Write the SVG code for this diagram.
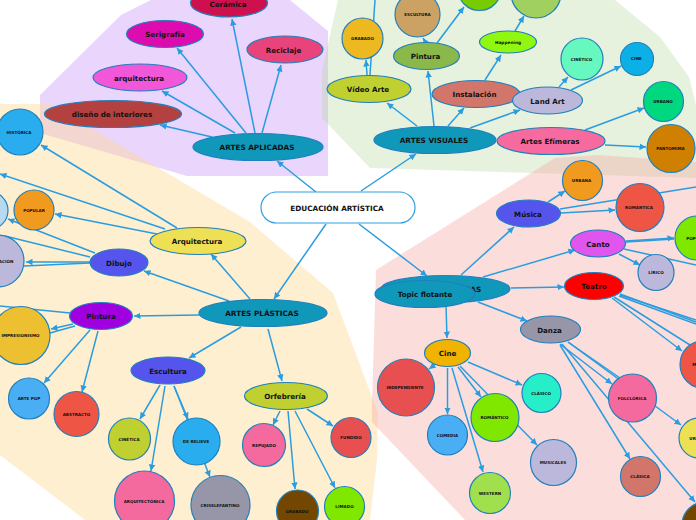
<svg xmlns="http://www.w3.org/2000/svg" width="696" height="520" viewBox="0 0 696 520">
<style>
.hull{stroke:none}
#connectors line{stroke:#2a9de0;stroke-width:1.5;fill:none}
#connectors line.a{marker-end:url(#arr)}
.n ellipse,.n circle{stroke:#2080bd;stroke-width:1.2}
text{font-family:"DejaVu Sans","Liberation Sans",sans-serif;font-weight:bold;text-anchor:middle;fill:#111}
.l{font-size:7.1px}
.u{font-size:7.3px}
.m{font-size:7.3px}
.s{font-size:4.1px}
</style>
<defs>
<marker id="arr" markerUnits="userSpaceOnUse" markerWidth="8" markerHeight="8" refX="6.500" refY="3.500" orient="auto"><path d="M0,0.3L6.500,3.500L0,6.700Z" fill="#2a9de0"/></marker>
</defs>
<rect width="696" height="520" fill="#fff"/>
<g id="hulls">
<polygon class="hull" fill="#ce9bfb" fill-opacity=".42" points="40,95 121,15 151,0 290,0 328,31 328,176 187,176 40,133"/>
<polygon class="hull" fill="#b9d9a3" fill-opacity=".36" points="338,0 322,70 322,118 370,168 696,178 696,105 689,77 660,37 615,0"/>
<polygon class="hull" fill="#fdd88e" fill-opacity=".42" points="0,104 50,104 250,222 333,293 378,413 377,460 370,520 85,520 0,455"/>
<polygon class="hull" fill="#f5a9a0" fill-opacity=".38" points="555,158 598,155 696,162 696,520 465,520 372,422 372,403 376,270 392,260"/>
</g>
<g id="connectors">
<line class="a" x1="316" y1="192" x2="277" y2="161"/>
<line class="a" x1="361" y1="191" x2="416" y2="154"/>
<line class="a" x1="326" y1="224" x2="274" y2="299"/>
<line class="a" x1="359" y1="224" x2="427" y2="276"/>
<line class="a" x1="255" y1="133" x2="232" y2="19"/>
<line class="a" x1="246" y1="133" x2="177" y2="48"/>
<line class="a" x1="262" y1="133" x2="281" y2="65"/>
<line class="a" x1="235" y1="133" x2="162" y2="91"/>
<line class="a" x1="212" y1="137" x2="160" y2="125"/>
<line class="a" x1="417" y1="126" x2="387" y2="103"/>
<line class="a" x1="434" y1="126" x2="428" y2="71"/>
<line class="a" x1="448" y1="126" x2="464" y2="108"/>
<line class="a" x1="470" y1="128" x2="520" y2="110"/>
<line class="a" x1="485" y1="80" x2="501" y2="55"/>
<line class="a" x1="426" y1="43" x2="423" y2="38"/>
<line class="a" x1="437" y1="43" x2="464" y2="7"/>
<line class="a" x1="515" y1="31" x2="524" y2="16"/>
<line class="a" x1="367" y1="75" x2="366" y2="60"/>
<line x1="370" y1="75" x2="375" y2="0"/>
<line class="a" x1="559" y1="87" x2="568" y2="77"/>
<line class="a" x1="571" y1="90" x2="621" y2="66"/>
<line class="a" x1="585" y1="130" x2="644" y2="108"/>
<line class="a" x1="605" y1="145" x2="646" y2="147"/>
<line class="a" x1="461" y1="275" x2="514" y2="227"/>
<line class="a" x1="483" y1="277" x2="575" y2="250"/>
<line class="a" x1="511" y1="288" x2="564" y2="287"/>
<line class="a" x1="478" y1="302" x2="527" y2="321"/>
<line class="a" x1="446" y1="306" x2="447" y2="338"/>
<line class="a" x1="548" y1="202" x2="565" y2="191"/>
<line class="a" x1="561" y1="213" x2="615" y2="210"/>
<line x1="560" y1="209" x2="696" y2="187"/>
<line class="a" x1="626" y1="241" x2="674" y2="238"/>
<line x1="626" y1="242" x2="674" y2="239"/>
<line class="a" x1="619" y1="254" x2="640" y2="265"/>
<line x1="624" y1="249" x2="696" y2="265"/>
<line x1="620" y1="295" x2="696" y2="320"/>
<line x1="620" y1="294" x2="696" y2="322"/>
<line x1="619" y1="296" x2="696" y2="324"/>
<line class="a" x1="612" y1="298" x2="682" y2="351"/>
<line x1="614" y1="297" x2="690" y2="345"/>
<line class="a" x1="560" y1="344" x2="612" y2="384"/>
<line x1="568" y1="342" x2="620" y2="378"/>
<line class="a" x1="560" y1="345" x2="630" y2="459"/>
<line class="a" x1="562" y1="344" x2="695" y2="502"/>
<line class="a" x1="568" y1="342" x2="681" y2="425"/>
<line class="a" x1="436" y1="364" x2="429" y2="369"/>
<line class="a" x1="447.500" y1="368" x2="447.500" y2="414"/>
<line class="a" x1="452" y1="368" x2="483" y2="472"/>
<line class="a" x1="458" y1="367" x2="481" y2="397"/>
<line class="a" x1="460" y1="366" x2="537" y2="445"/>
<line class="a" x1="468" y1="362" x2="522" y2="385"/>
<line class="a" x1="199" y1="315" x2="134" y2="316"/>
<line class="a" x1="229" y1="301" x2="144" y2="271"/>
<line class="a" x1="250" y1="299" x2="211" y2="254"/>
<line class="a" x1="241" y1="327" x2="189" y2="358"/>
<line class="a" x1="268" y1="329" x2="282" y2="381"/>
<line class="a" x1="177" y1="228" x2="41" y2="145"/>
<line class="a" x1="165" y1="229" x2="0" y2="174"/>
<line class="a" x1="157" y1="234" x2="55" y2="214"/>
<line class="a" x1="95" y1="253" x2="8" y2="219"/>
<line class="a" x1="90" y1="262" x2="26" y2="262"/>
<line x1="90" y1="263" x2="24" y2="266"/>
<line x1="90" y1="257" x2="5" y2="236"/>
<line x1="70" y1="313" x2="0" y2="306"/>
<line class="a" x1="73" y1="324" x2="51" y2="329"/>
<line x1="75" y1="326" x2="50" y2="333"/>
<line class="a" x1="90" y1="330" x2="44" y2="383"/>
<line class="a" x1="98" y1="331" x2="82" y2="392"/>
<line class="a" x1="160" y1="385" x2="140" y2="419"/>
<line class="a" x1="165" y1="386" x2="151" y2="471"/>
<line class="a" x1="174" y1="386" x2="188" y2="419"/>
<line class="a" x1="174" y1="386" x2="210" y2="477"/>
<line class="a" x1="280" y1="411" x2="273" y2="425"/>
<line class="a" x1="288" y1="411" x2="295" y2="489"/>
<line class="a" x1="295" y1="411" x2="335" y2="488"/>
<line class="a" x1="307" y1="409" x2="333" y2="426"/>
</g>
<g id="nodes">
<g id="root"><rect x="261" y="192" width="154" height="31" rx="15.500" fill="#fff" stroke="#2f9fe0" stroke-width="1.200"/><text class="m" x="337" y="210.500">EDUCACIÓN ARTÍSTICA</text></g>
<g class="n" id="aa"><ellipse cx="258" cy="147" rx="65" ry="13.500" fill="#1098bb"/><text class="u" x="257" y="150">ARTES APLICADAS</text></g>
<g class="n" id="ceramica"><ellipse cx="229" cy="3" rx="38.500" ry="14" fill="#cf104f"/><text class="l" x="228" y="7">Cerámica</text></g>
<g class="n" id="serigrafia"><ellipse cx="165" cy="34" rx="38.500" ry="13.500" fill="#dc0cae"/><text class="l" x="165" y="37">Serigrafía</text></g>
<g class="n" id="reciclaje"><ellipse cx="285" cy="49.500" rx="38" ry="13.500" fill="#e8437a"/><text class="l" x="283.500" y="53">Reciclaje</text></g>
<g class="n" id="arq"><ellipse cx="140" cy="77.500" rx="47" ry="13.500" fill="#f256d9"/><text class="l" x="139" y="81">arquitectura</text></g>
<g class="n" id="diseno"><ellipse cx="113" cy="114" rx="68.500" ry="13.500" fill="#b54040"/><text class="l" x="112" y="117">diseño de interiores</text></g>
<g class="n" id="av"><ellipse cx="435" cy="140" rx="61" ry="13.500" fill="#1098bb"/><text class="u" x="434" y="143">ARTES VISUALES</text></g>
<g class="n" id="grabado1"><circle cx="362.500" cy="38.500" r="20.500" fill="#eeb820"/><text class="s" x="362.500" y="40">GRABADO</text></g>
<g class="n" id="escultura1"><circle cx="417.500" cy="14.500" r="22.500" fill="#cba264"/><text class="s" x="417.500" y="16">ESCULTURA</text></g>
<g class="n" id="c1"><circle cx="479.500" cy="-11" r="21.500" fill="#76cc00"/></g>
<g class="n" id="c2"><circle cx="536" cy="-7" r="25" fill="#a0d060"/></g>
<g class="n" id="pintura1"><ellipse cx="426.500" cy="56" rx="33" ry="13.500" fill="#8ab84a"/><text class="l" x="425.500" y="59">Pintura</text></g>
<g class="n" id="happening"><ellipse cx="508" cy="42" rx="28.500" ry="11" fill="#90f810"/><text class="s" x="508" y="44" style="font-size:4.3px">Happening</text></g>
<g class="n" id="video"><ellipse cx="369" cy="89" rx="42" ry="13.500" fill="#bfd030"/><text class="l" x="368" y="92">Vídeo Arte</text></g>
<g class="n" id="instalacion"><ellipse cx="476" cy="94" rx="44" ry="13.500" fill="#d2756a"/><text class="l" x="474.500" y="97">Instalación</text></g>
<g class="n" id="landart"><ellipse cx="547.500" cy="100.500" rx="35" ry="13.500" fill="#bcb8dc"/><text class="l" x="547.500" y="104">Land Art</text></g>
<g class="n" id="cinetico"><circle cx="582" cy="59" r="21" fill="#66f8bf"/><text class="s" x="581.500" y="61">CINÉTICO</text></g>
<g class="n" id="cine1"><circle cx="637" cy="59" r="16.500" fill="#0cb0e6"/><text class="s" x="636.500" y="60">CINE</text></g>
<g class="n" id="urbano"><circle cx="663.500" cy="101.500" r="20" fill="#00d880"/><text class="s" x="663" y="103">URBANO</text></g>
<g class="n" id="pantomima"><circle cx="671" cy="148.500" r="24" fill="#d08000"/><text class="s" x="670.500" y="150">PANTOMIMA</text></g>
<g class="n" id="efimeras"><ellipse cx="551" cy="141" rx="54" ry="13.500" fill="#f66a9f"/><text class="l" x="550" y="144">Artes Efímeras</text></g>
<g class="n" id="ae"><ellipse cx="445.500" cy="289" rx="64.500" ry="13.500" fill="#1098bb"/><text class="u" x="444" y="292">ARTES ESCÉNICAS</text></g>
<g class="n" id="topic"><ellipse cx="425" cy="294" rx="50" ry="13.500" fill="#1098bb"/><text class="l" x="425" y="297">Topic flotante</text></g>
<g class="n" id="urbana1"><circle cx="582.500" cy="180.500" r="20" fill="#f09a20"/><text class="s" x="581.500" y="182">URBANA</text></g>
<g class="n" id="romantica"><circle cx="640" cy="207.500" r="24" fill="#ee5545"/><text class="s" x="639" y="209">ROMÁNTICA</text></g>
<g class="n" id="musica"><ellipse cx="528.500" cy="213.500" rx="32" ry="13.500" fill="#5555ee"/><text class="l" x="528" y="217">Música</text></g>
<g class="n" id="canto"><ellipse cx="598" cy="243.500" rx="27.500" ry="13.500" fill="#e055ee"/><text class="l" x="598" y="246.500">Canto</text></g>
<g class="n" id="popular2"><circle cx="697" cy="238" r="22" fill="#80e800"/><text class="s" x="697" y="239.500">POPULAR</text></g>
<g class="n" id="lirico"><circle cx="656" cy="272.500" r="18" fill="#bcb8dc"/><text class="s" x="656" y="274">LÍRICO</text></g>
<g class="n" id="teatro"><ellipse cx="594" cy="286" rx="29.500" ry="13.500" fill="#ff0000"/><text class="l" x="594" y="289">Teatro</text></g>
<g class="n" id="danza"><ellipse cx="550.500" cy="329.500" rx="30" ry="13.500" fill="#9696a8"/><text class="l" x="549.500" y="333">Danza</text></g>
<g class="n" id="cine2"><ellipse cx="447.500" cy="353" rx="23" ry="13.500" fill="#f0b400"/><text class="l" x="447.500" y="356">Cine</text></g>
<g class="n" id="independiente"><circle cx="406" cy="387.500" r="28.500" fill="#e84f50"/><text class="s" x="405" y="389">INDEPENDIENTE</text></g>
<g class="n" id="comedia"><circle cx="447.500" cy="435" r="20" fill="#4aaef5"/><text class="s" x="447.500" y="437">COMEDIA</text></g>
<g class="n" id="romantico"><circle cx="495" cy="417.500" r="24" fill="#80e800"/><text class="s" x="494.500" y="419">ROMÁNTICO</text></g>
<g class="n" id="clasico"><circle cx="541.500" cy="393" r="19.500" fill="#26eec8"/><text class="s" x="541" y="395">CLÁSICO</text></g>
<g class="n" id="musicales"><circle cx="553.500" cy="462.500" r="23" fill="#bcb8dc"/><text class="s" x="553" y="464">MUSICALES</text></g>
<g class="n" id="western"><circle cx="490" cy="493" r="20.500" fill="#a0e04c"/><text class="s" x="490" y="495">WESTERN</text></g>
<g class="n" id="folclorica"><circle cx="632.500" cy="398" r="24" fill="#f56a9e"/><text class="s" x="632" y="399.500">FOLCLÓRICA</text></g>
<g class="n" id="clasica"><circle cx="640.500" cy="476.500" r="20" fill="#d2756a"/><text class="s" x="640" y="478">CLÁSICA</text></g>
<g class="n" id="moderna"><circle cx="704" cy="364.500" r="24" fill="#ee5545"/><text class="s" x="704" y="366">MODERNA</text></g>
<g class="n" id="urbana2"><circle cx="699" cy="438" r="20" fill="#ede055"/><text class="s" x="699" y="439.500">URBANA</text></g>
<g class="n" id="c3"><circle cx="705" cy="525" r="23" fill="#744700"/></g>
<g class="n" id="ap"><ellipse cx="263" cy="313" rx="64" ry="13.500" fill="#1098bb"/><text class="u" x="262" y="316">ARTES PLÁSTICAS</text></g>
<g class="n" id="arquitectura2"><ellipse cx="198" cy="241" rx="48" ry="13.500" fill="#ede055"/><text class="l" x="197" y="244">Arquitectura</text></g>
<g class="n" id="historica"><circle cx="20" cy="132" r="23" fill="#29adee"/><text class="s" x="19" y="134">HISTÓRICA</text></g>
<g class="n" id="popular1"><circle cx="34" cy="210" r="20" fill="#f09a20"/><text class="s" x="34" y="212">POPULAR</text></g>
<g class="n" id="c4"><circle cx="-11" cy="210.500" r="19" fill="#b9d9f0"/></g>
<g class="n" id="ilustracion"><circle cx="-2" cy="261" r="26" fill="#bcb8dc"/><text class="s" x="-2" y="263">ILUSTRACIÓN</text></g>
<g class="n" id="dibujo"><ellipse cx="119" cy="262.500" rx="29" ry="13.500" fill="#5555ee"/><text class="l" x="119" y="266">Dibujo</text></g>
<g class="n" id="pintura2"><ellipse cx="101" cy="316" rx="31.500" ry="13.500" fill="#a000e0"/><text class="l" x="101" y="319">Pintura</text></g>
<g class="n" id="impresionismo"><circle cx="21" cy="335.500" r="29" fill="#ecc030"/><text class="s" x="20.500" y="337">IMPRESIONISMO</text></g>
<g class="n" id="artepop"><circle cx="29" cy="398.500" r="20.500" fill="#4aaef5"/><text class="s" x="29" y="400">ARTE POP</text></g>
<g class="n" id="abstracto"><circle cx="76.500" cy="414" r="22.500" fill="#ee5545"/><text class="s" x="76.500" y="415.500">ABSTRACTO</text></g>
<g class="n" id="escultura2"><ellipse cx="168" cy="370.500" rx="37" ry="13.500" fill="#5555ee"/><text class="l" x="168" y="374">Escultura</text></g>
<g class="n" id="cinetica"><circle cx="129.500" cy="439" r="21" fill="#bfd030"/><text class="s" x="129" y="440.500">CINÉTICA</text></g>
<g class="n" id="relieve"><circle cx="196.500" cy="441.500" r="23.500" fill="#29adee"/><text class="s" x="196" y="443">DE RELIEVE</text></g>
<g class="n" id="arquitectonica"><circle cx="144.500" cy="501" r="30" fill="#f56a9e"/><text class="s" x="144" y="503">ARQUITECTÓNICA</text></g>
<g class="n" id="criselefantino"><circle cx="220.500" cy="505" r="29.500" fill="#9696a8"/><text class="s" x="220" y="507">CRISELEFANTINO</text></g>
<g class="n" id="orfebreria"><ellipse cx="286" cy="396" rx="41.500" ry="13.500" fill="#bfd030"/><text class="l" x="285" y="399">Orfebrería</text></g>
<g class="n" id="repujado"><circle cx="264" cy="445" r="21.500" fill="#f56a9e"/><text class="s" x="264" y="447">REPUJADO</text></g>
<g class="n" id="fundido"><circle cx="351" cy="437.500" r="20" fill="#e84f50"/><text class="s" x="351" y="439">FUNDIDO</text></g>
<g class="n" id="grabado2"><circle cx="297.500" cy="511" r="21" fill="#744700"/><text class="s" x="297" y="513">GRABADO</text></g>
<g class="n" id="limado"><circle cx="344.500" cy="506.500" r="20" fill="#80e800"/><text class="s" x="344.500" y="508">LIMADO</text></g>
</g>
</svg>
